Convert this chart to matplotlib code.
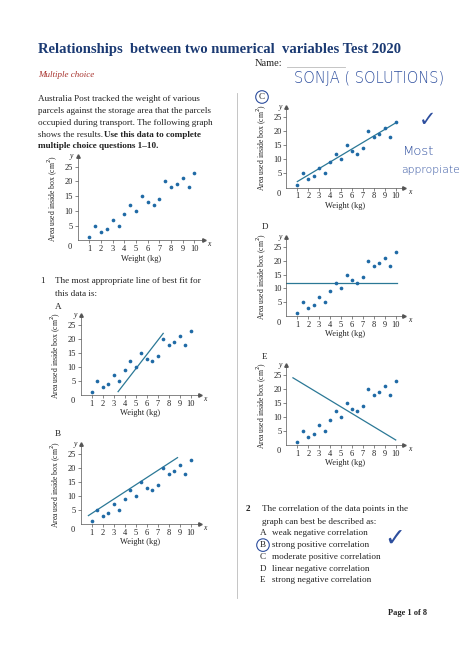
import matplotlib
matplotlib.use("Agg")
from matplotlib import pyplot as plt

# scanned worksheet page, drawn in pixel coordinates of a 474x670 page
W, H = 474, 670

weight = [1, 1.5, 2, 2.5, 3, 3.5, 4, 4.5, 5, 5.5, 6, 6.5, 7, 7.5, 8, 8.5, 9, 9.5, 10]
area = [1, 5, 3, 4, 7, 5, 9, 12, 10, 15, 13, 12, 14, 20, 18, 19, 21, 18, 23]
x_ticks = [1, 2, 3, 4, 5, 6, 7, 8, 9, 10]
y_ticks = [5, 10, 15, 20, 25]

# candidate lines of best fit (end points)
line_a = ([3.4, 7.5], [1.2, 22.0])
line_b = ([0.7, 8.8], [3.0, 23.7])
line_c = ([1.0, 9.9], [2.1, 22.6])
line_d = ([0.0, 10.15], [11.8, 11.8])
line_e = ([0.6, 10.0], [24.0, 1.8])

intro = [
    "Australia Post tracked the weight of various",
    "parcels against the storage area that the parcels",
    "occupied during transport. The following graph",
]
q1_lines = ["The most appropriate line of best fit for", "this data is:"]
q2_lines = ["The correlation of the data points in the", "graph can best be described as:"]
q2_options = [
    ("A", "weak negative correlation"),
    ("B", "strong positive correlation"),
    ("C", "moderate positive correlation"),
    ("D", "linear negative correlation"),
    ("E", "strong negative correlation"),
]

SERIF = ["Liberation Serif", "DejaVu Serif"]
HAND = ["DejaVu Sans"]
DOT = "#1f6aa5"
FIT = "#2b7896"
INK = "#2d4e9e"
AXC = "#555555"
TXT = "#222222"
XMAX, YMAX = 10.8, 28.5

plt.rcParams["font.family"] = SERIF

fig = plt.figure(figsize=(W / 100, H / 100), dpi=100)
fig.set_facecolor("white")


def ftext(x, y, s, **kw):
    kw.setdefault("va", "center")
    kw.setdefault("color", TXT)
    return fig.text(x / W, 1 - y / H, s, **kw)


def panel(x0, y0, sx, sy, line=None):
    ax = fig.add_axes([x0 / W, 1 - y0 / H, XMAX * sx / W, YMAX * sy / H])
    ax.set_xlim(0, XMAX)
    ax.set_ylim(0, YMAX)
    ax.set_facecolor("none")
    ax.scatter(weight, area, s=7, color=DOT, zorder=3, clip_on=False, linewidths=0)
    if line is not None:
        ax.plot(line[0], line[1], color=FIT, lw=0.9)
    for side in ("top", "right"):
        ax.spines[side].set_visible(False)
    for side in ("left", "bottom"):
        ax.spines[side].set_color(AXC)
        ax.spines[side].set_linewidth(0.5)
    ax.plot(1, 0, ">", transform=ax.transAxes, ms=2.5, color=AXC, clip_on=False)
    ax.plot(0, 1, "^", transform=ax.transAxes, ms=2.5, color=AXC, clip_on=False)
    ax.text(-0.035, 1.0, "y", transform=ax.transAxes, ha="right", va="center",
            fontsize=5.5, style="italic", color=TXT)
    ax.text(1.03, 0.0, "x", transform=ax.transAxes, ha="left", va="top",
            fontsize=5.5, style="italic", color=TXT)
    ax.text(-0.05, -0.03, "0", transform=ax.transAxes, ha="right", va="top",
            fontsize=6, color=TXT)
    ax.set_xticks(x_ticks)
    ax.set_yticks(y_ticks)
    ax.tick_params(length=2, width=0.5, color=AXC, labelsize=6, labelcolor=TXT, pad=1.5)
    ax.set_xlabel("Weight (kg)", fontsize=6, color=TXT, labelpad=1)
    ax.set_ylabel("Area used inside box (cm$^2$)", fontsize=5.6, color=TXT, labelpad=3)
    return ax


# header
ftext(38, 49, "Relationships  between two numerical  variables Test 2020",
      fontsize=10.5, fontweight="bold", color="#1b3a73")
ftext(255, 63, "Name:", fontsize=7.5)
fig.add_artist(plt.Line2D([287 / W, 345 / W], [1 - 67 / H] * 2, color="#bbbbbb", lw=0.6))
ftext(369, 78, "SONJA ( SOLUTIONS)", fontsize=10.5, family=HAND, fontweight="light",
      color=INK, ha="center")
ftext(38, 75, "Multiple choice", fontsize=6.5, style="italic", color="#a8322d")

# column separator
fig.add_artist(plt.Line2D([237 / W] * 2, [1 - 93 / H, 1 - 598 / H], color="#bbbbbb", lw=0.6))

# intro paragraph
FS = 6.6
for i, s in enumerate(intro):
    ftext(38, 99 + 12 * i, s, fontsize=FS)
ftext(38, 135, "shows the results.", fontsize=FS)
ftext(104, 135, "Use this data to complete", fontsize=FS, fontweight="bold")
ftext(38, 146.5, "multiple choice questions 1\u201310.", fontsize=FS, fontweight="bold")

# question 1
ftext(40, 281, "1", fontsize=FS)
for i, s in enumerate(q1_lines):
    ftext(55, 281 + 13 * i, s, fontsize=FS)
ftext(55, 307, "A", fontsize=FS)
ftext(55, 434, "B", fontsize=FS)
ftext(262, 97, "C", fontsize=FS, ha="center",
      bbox=dict(boxstyle="circle,pad=0.25", fc="none", ec=INK, lw=0.8))
ftext(262, 227, "D", fontsize=FS)
ftext(262, 357, "E", fontsize=FS)

panel(77.7, 240.4, 11.67, 2.95)
panel(80.7, 395, 11.0, 2.8, line_a)
panel(80.7, 524, 11.0, 2.8, line_b)
panel(286.4, 187.5, 10.93, 2.83, line_c)
panel(286.4, 316.2, 10.93, 2.78, line_d)
panel(286.4, 445, 10.93, 2.8, line_e)

# handwritten marks
ftext(428, 120, "\u2713", fontsize=15, family=HAND, color=INK, ha="center")
ftext(403, 151, "Most", fontsize=9.5, family=HAND, fontweight="light", color=INK)
ftext(401, 170, "appropiate", fontsize=7.8, family=HAND, fontweight="light", color=INK)

# question 2
ftext(246, 509, "2", fontsize=FS, fontweight="bold")
for i, s in enumerate(q2_lines):
    ftext(262, 509 + 12.5 * i, s, fontsize=FS)
for i, (letter, s) in enumerate(q2_options):
    y = 533.3 + 11.8 * i
    kw = {}
    if letter == "B":
        kw["bbox"] = dict(boxstyle="circle,pad=0.25", fc="none", ec=INK, lw=0.8)
    ftext(263, y, letter, fontsize=FS, ha="center", **kw)
    ftext(272, y, s, fontsize=FS)
ftext(395, 539, "\u2713", fontsize=18, family=HAND, color=INK, ha="center")

ftext(407, 613, "Page 1 of 8", fontsize=6, fontweight="bold", ha="center")

fig.savefig("out.png", dpi=100)
